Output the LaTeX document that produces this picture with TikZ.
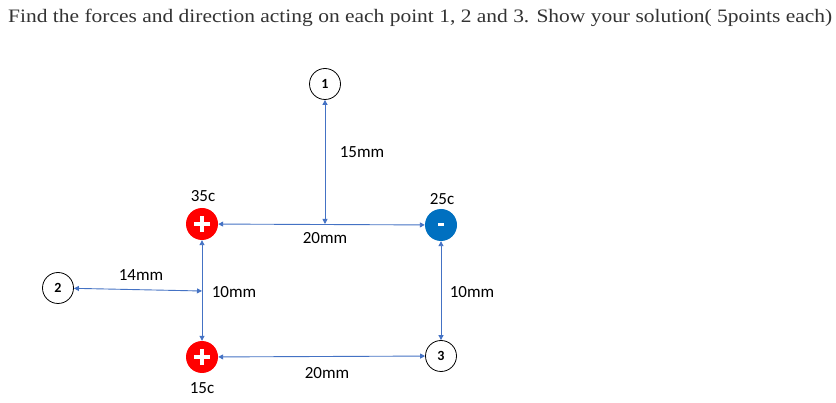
\documentclass[tikz,border=0pt]{standalone}
\usepackage{fontspec}
\setmainfont{Liberation Serif}
\newfontfamily\carlitofont{Carlito}
\usetikzlibrary{arrows.meta}
\definecolor{lineblue}{HTML}{4472C4}
\definecolor{chgred}{HTML}{FF0000}
\definecolor{chgblue}{HTML}{0070C0}
\tikzset{
  ptnode/.style={circle,draw=black,line width=0.8pt,fill=white,minimum size=31pt,inner sep=0pt,font=\carlitofont\bfseries\fontsize{14}{14}\selectfont},
  poscharge/.style={circle,fill=chgred,minimum size=32pt,inner sep=0pt},
  negcharge/.style={circle,fill=chgblue,minimum size=32pt,inner sep=0pt},
  dimline/.style={draw=lineblue,line width=0.9pt,{Triangle[length=5pt,width=5pt]}-{Triangle[length=5pt,width=5pt]}},
  lbl/.style={font=\carlitofont\fontsize{17}{17}\selectfont,inner sep=0pt},
  signline/.style={draw=white,line width=3.6pt}
}
\begin{document}
\begin{tikzpicture}[x=1pt,y=-1pt]
\useasboundingbox (0,0) rectangle (836,403);
\fill[white] (0,0) rectangle (836,403);
\node[anchor=west,inner sep=0pt,font=\fontsize{19}{19}\selectfont,text=black!80] (title) at (8,18) {\scalebox{1.13}[1]{Find the forces and direction acting on each point 1, 2 and 3. Show your solution( 5points each)}};
% nodes
\node[ptnode] (n1) at (325,84) {1};
\node[ptnode] (n2) at (58,288) {2};
\node[ptnode] (n3) at (441,356) {3};
\node[poscharge] (q1) at (202,224) {};
\node[negcharge] (q2) at (441,225) {};
\node[poscharge] (q3) at (202,357) {};
% signs
\draw[signline] ([xshift=-8pt]q1.center) -- ([xshift=8pt]q1.center) ([yshift=-8pt]q1.center) -- ([yshift=8pt]q1.center);
\draw[signline] ([xshift=-8pt]q3.center) -- ([xshift=8pt]q3.center) ([yshift=-8pt]q3.center) -- ([yshift=8pt]q3.center);
\draw[signline,line width=3pt] ([xshift=-2.8pt]q2.center) -- ([xshift=2.8pt]q2.center);
% charge labels
\node[lbl] (l35) at (203,196) {35c};
\node[lbl] (l25) at (442,199) {25c};
\node[lbl] (l15) at (202,388) {15c};
% helper coordinates
\coordinate (m1) at (325,224);
\coordinate (m2) at (202,291);
% dimension lines
\draw[dimline] (n1) -- (m1);
\draw[dimline] (q1) -- (q2);
\draw[dimline] (n2) -- (m2);
\draw[dimline] (q1) -- (q3);
\draw[dimline] (q2) -- (n3);
\draw[dimline] (q3) -- (n3);
% dimension labels
\node[lbl] (d15) at (362,152) {15mm};
\node[lbl] (d20a) at (325,238) {20mm};
\node[lbl] (d14) at (141,275) {14mm};
\node[lbl] (d10a) at (234,292) {10mm};
\node[lbl] (d10b) at (472,292) {10mm};
\node[lbl] (d20b) at (327,373) {20mm};
\end{tikzpicture}
\end{document}
